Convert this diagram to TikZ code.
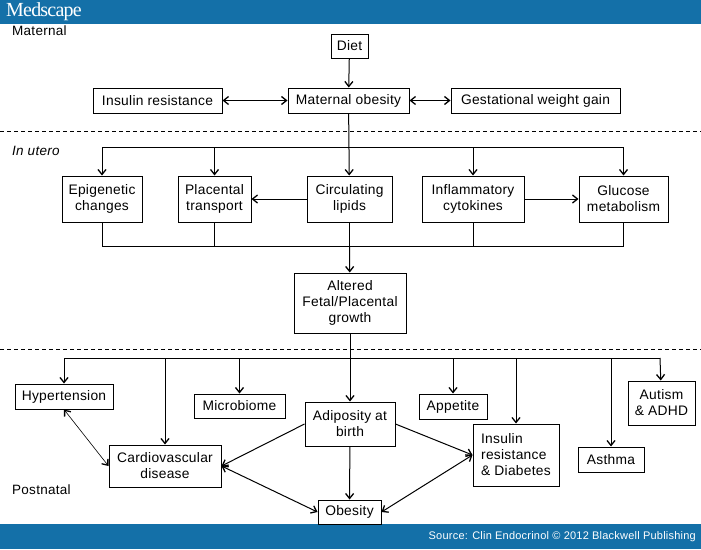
\documentclass[tikz,border=0pt]{standalone}
\usepackage{fontspec}
\setmainfont{Liberation Sans}[LetterSpace=2]
\newfontfamily\logofont{Liberation Serif}[LetterSpace=-4]
\usetikzlibrary{arrows.meta}
\definecolor{msblue}{HTML}{1470A8}
\begin{document}
\begin{tikzpicture}[x=1pt,y=-1pt,
  box/.style={draw,line width=1pt,fill=white,font=\fontsize{13.8}{16}\selectfont,align=center,inner sep=0pt},
  ln/.style={draw,line width=1pt},
  ar/.style={ln,-{Straight Barb[length=5pt,width=8pt,line width=1.3pt]}},
  dar/.style={ln,{Straight Barb[length=5pt,width=8pt,line width=1.3pt]}-{Straight Barb[length=5pt,width=8pt,line width=1.3pt]}},
  lbl/.style={font=\fontsize{13.5}{15}\selectfont,anchor=west,inner sep=0pt},
  sep/.style={draw,dash pattern=on 4pt off 3pt,line width=0.8pt}]
\useasboundingbox (0,0) rectangle (701,549);
\fill[white] (0,0) rectangle (701,549);
\fill[msblue] (0,0) rectangle (701,24);
\fill[msblue] (0,524) rectangle (701,549);
\node[anchor=west,text=white,font=\logofont\fontsize{20}{20}\selectfont,inner sep=0pt] (logo) at (6,12) {Medscape};
\node[anchor=east,text=white,font=\fontsize{11}{12}\selectfont,inner sep=0pt] (src) at (696,537) {Source: Clin Endocrinol © 2012 Blackwell Publishing};
\node[lbl] (lm) at (12,31) {Maternal};
\node[lbl,font=\fontsize{13.5}{15}\selectfont\itshape] (lu) at (12,151) {In utero};
\node[lbl] (lp) at (12,490) {Postnatal};
\path[sep] (0,131) -- (701,131);
\path[sep] (0,349) -- (701,349);
% maternal
\node[box,minimum width=37pt,minimum height=24pt] (diet) at (349.5,46) {Diet};
\node[box,minimum width=129pt,minimum height=25pt] (ir) at (157.5,100.5) {Insulin resistance};
\node[box,minimum width=121pt,minimum height=25pt] (mo) at (348.5,100.5) {Maternal obesity};
\node[box,minimum width=169pt,minimum height=25pt] (gw) at (535.5,100.5) {Gestational weight gain};
\draw[ar] (diet) -- (mo);
\draw[dar] (ir) -- (mo);
\draw[dar] (mo) -- (gw);
% in utero
\node[box,minimum width=80pt,minimum height=46pt] (ep) at (102,199) {Epigenetic\\changes};
\node[box,minimum width=73pt,minimum height=46pt] (pt) at (214.5,199) {Placental\\transport};
\node[box,minimum width=85pt,minimum height=46pt] (cl) at (349.5,199) {Circulating\\lipids};
\node[box,minimum width=102pt,minimum height=46pt] (ic) at (473,199) {Inflammatory\\cytokines};
\node[box,minimum width=89pt,minimum height=46pt] (gm) at (623.5,199) {Glucose\\metabolism};
\coordinate (t1) at (102,147); \coordinate (t5) at (624,147);
\draw[ln] (t1) -- (t5);
\draw[ar] (mo) -- (cl);
\foreach \n/\x in {ep/102,pt/214.5,ic/473,gm/623.5} \draw[ar] (\x,147) -- (\n);
\draw[ar] (cl) -- (pt);
\draw[ar] (ic) -- (gm);
\node[box,minimum width=112pt,minimum height=60pt] (af) at (350,303) {Altered\\Fetal/Placental\\growth};
\foreach \n/\x in {ep/102,pt/214.5,cl/349.5,ic/473,gm/623.5} \draw[ln] (\n) -- (\x,246);
\draw[ln] (102,246) -- (623.5,246);
\draw[ar] (349.5,246) -- (af);
% postnatal
\node[box,minimum width=98pt,minimum height=25pt] (ht) at (64,396.5) {Hypertension};
\node[box,minimum width=112pt,minimum height=42pt] (cv) at (165,466) {Cardiovascular\\disease};
\node[box,minimum width=91pt,minimum height=24pt] (mb) at (239.5,406) {Microbiome};
\node[box,minimum width=90pt,minimum height=44pt] (ad) at (350,424) {Adiposity at\\birth};
\node[box,minimum width=68pt,minimum height=25pt] (ap) at (453,406.5) {Appetite};
\node[box,minimum width=86pt,minimum height=62pt,align=left] (id) at (516,455) {Insulin\\resistance\\\& Diabetes};
\node[box,minimum width=66pt,minimum height=25pt] (as) at (611,459.5) {Asthma};
\node[box,minimum width=67pt,minimum height=44pt] (au) at (661.5,403) {Autism\\\& ADHD};
\node[box,minimum width=63pt,minimum height=24pt] (ob) at (349.5,512) {Obesity};
\draw[ln] (af) -- (350,358);
\draw[ln] (64,358) -- (660,358);
\foreach \n/\x in {ht/64,cv/165,mb/239.5,ad/350,ap/453,id/516,as/611,au/660} \draw[ar] (\x,358) -- (\n);
\draw[ar] (ad) -- (ob);
\draw[ar] (ad.west) -- (cv.east);
\draw[ar] (ad.east) -- (id.west);
\draw[dar] (cv.east) -- (ob.west);
\draw[dar] (ob.east) -- (id.west);
\draw[dar,line width=0.6pt] (ht.south) -- (cv.west);
\end{tikzpicture}
\end{document}
